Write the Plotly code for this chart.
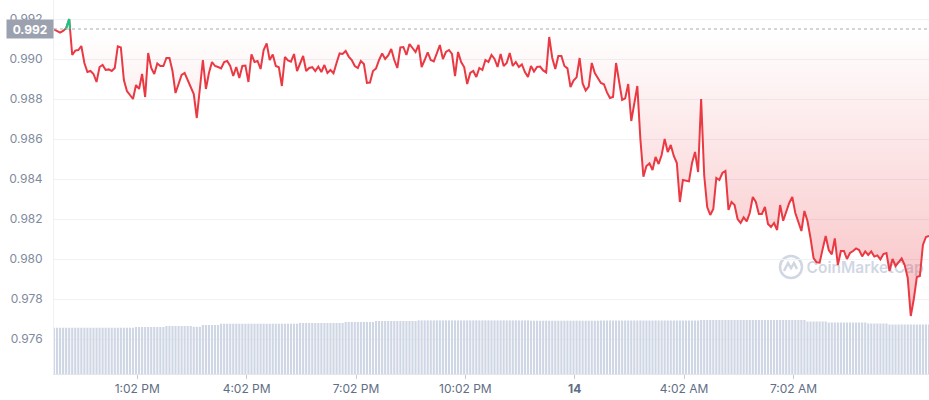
import pandas as pd
import plotly.graph_objects as go

# ---------------- data ----------------
start_time = "2024-05-13 10:45"
baseline = 0.9915  # opening price (dotted reference line)

price = [
    0.99148, 0.99138, 0.99132, 0.99140, 0.99154, 0.99200, 0.99020, 0.99042, 0.99045, 0.99065,
    0.98980, 0.98935, 0.98940, 0.98925, 0.98885, 0.98960, 0.98970, 0.98945, 0.98948, 0.98940,
    0.98955, 0.99063, 0.99058, 0.98895, 0.98840, 0.98820, 0.98800, 0.98870, 0.98850, 0.98925,
    0.98810, 0.99030, 0.98955, 0.98925, 0.98978, 0.98965, 0.98965, 0.99005, 0.99005, 0.98940,
    0.98830, 0.98875, 0.98920, 0.98930, 0.98895, 0.98860, 0.98825, 0.98705, 0.98845, 0.98995,
    0.98850, 0.98930, 0.98985, 0.98965, 0.98960, 0.98953, 0.98985, 0.98990, 0.98965, 0.98915,
    0.98960, 0.98905, 0.98965, 0.98967, 0.98885, 0.99023, 0.98985, 0.98990, 0.98950, 0.99045,
    0.99078, 0.98995, 0.99023, 0.98965, 0.98959, 0.98865, 0.99010, 0.98993, 0.98987, 0.99025,
    0.98940, 0.98982, 0.99015, 0.98940, 0.98955, 0.98959, 0.98940, 0.98962, 0.98935, 0.98970,
    0.98930, 0.98945, 0.98929, 0.98980, 0.99028, 0.99025, 0.99040, 0.99012, 0.98995, 0.98965,
    0.98955, 0.98990, 0.98975, 0.98880, 0.98882, 0.98940, 0.98953, 0.98995, 0.99028, 0.99000,
    0.99018, 0.99050, 0.98995, 0.98955, 0.99058, 0.99060, 0.99020, 0.99075, 0.99053, 0.99035,
    0.99070, 0.98960, 0.98995, 0.99033, 0.98995, 0.98988, 0.99028, 0.99070, 0.99000, 0.99035,
    0.99045, 0.99025, 0.98915, 0.99035, 0.98985, 0.98960, 0.98875, 0.98930, 0.98940, 0.98910,
    0.98955, 0.98945, 0.98995, 0.98985, 0.99020, 0.99000, 0.98960, 0.99025, 0.98965, 0.98980,
    0.99030, 0.98965, 0.98985, 0.98960, 0.98973, 0.98935, 0.98910, 0.98965, 0.98937, 0.98960,
    0.98962, 0.98943, 0.98933, 0.99110, 0.99005, 0.98950, 0.99015, 0.99015, 0.98965, 0.98953,
    0.98860, 0.98892, 0.98908, 0.99005, 0.98878, 0.98842, 0.98862, 0.98980, 0.98930, 0.98905,
    0.98880, 0.98874, 0.98833, 0.98805, 0.98810, 0.98980, 0.98885, 0.98795, 0.98803, 0.98875,
    0.98690, 0.98785, 0.98865, 0.98600, 0.98412, 0.98465, 0.98478, 0.98445, 0.98510, 0.98475,
    0.98520, 0.98600, 0.98535, 0.98570, 0.98515, 0.98480, 0.98285, 0.98395, 0.98390, 0.98388,
    0.98480, 0.98535, 0.98435, 0.98800, 0.98420, 0.98260, 0.98220, 0.98250, 0.98405, 0.98395,
    0.98430, 0.98440, 0.98245, 0.98285, 0.98270, 0.98200, 0.98180, 0.98208, 0.98188, 0.98230,
    0.98310, 0.98285, 0.98225, 0.98225, 0.98260, 0.98175, 0.98160, 0.98180, 0.98145, 0.98270,
    0.98191, 0.98240, 0.98280, 0.98310, 0.98230, 0.98185, 0.98140, 0.98240, 0.98190, 0.98105,
    0.98005, 0.97983, 0.97982, 0.98050, 0.98115, 0.98045, 0.98023, 0.98103, 0.97970, 0.98040,
    0.98040, 0.98000, 0.98030, 0.98040, 0.98053, 0.98045, 0.98013, 0.98038, 0.98020, 0.98038,
    0.98012, 0.98018, 0.97998, 0.98025, 0.98030, 0.97940, 0.98000, 0.97965, 0.97985, 0.98003,
    0.97970, 0.97905, 0.97715, 0.97800, 0.97910, 0.97915, 0.98070, 0.98110, 0.98115,
]

# 24h volume (millions), read as (value, number of consecutive 5-min bars)
volume_runs = [
    (463, 27), (470, 10), (480, 9), (472, 3), (490, 6), (503, 26), (510, 15),
    (520, 10), (530, 14), (536, 37), (533, 23), (535, 33), (540, 35), (525, 7),
    (515, 13), (505, 7), (495, 14),
]

y_ticks = [0.976, 0.978, 0.980, 0.982, 0.984, 0.986, 0.988, 0.990, 0.992]
x_tick_vals = ["2024-05-13 13:02", "2024-05-13 16:02", "2024-05-13 19:02",
               "2024-05-13 22:02", "2024-05-14 01:02", "2024-05-14 04:02",
               "2024-05-14 07:02"]
x_tick_text = ["1:02 PM", "4:02 PM", "7:02 PM", "10:02 PM", "<b>14</b>",
               "4:02 AM", "7:02 AM"]

# ---------------- build ----------------
times = pd.date_range(start_time, periods=len(price), freq="5min")
volume = []
for v, n in volume_runs:
    volume.extend([v] * n)
vol_times = pd.date_range(start_time, periods=len(volume), freq="5min")

# green part: segments above the baseline, with crossing points
tnum = times.asi8
gx, gy = [], []
for i in range(len(price) - 1):
    v0, v1 = price[i], price[i + 1]
    if v0 >= baseline:
        gx.append(pd.Timestamp(tnum[i])); gy.append(v0)
    if (v0 - baseline) * (v1 - baseline) < 0:
        tc = tnum[i] + (tnum[i + 1] - tnum[i]) * (baseline - v0) / (v1 - v0)
        gx.append(pd.Timestamp(int(tc))); gy.append(baseline)
        if v1 < baseline:
            gx.append(None); gy.append(None)
if price[-1] >= baseline:
    gx.append(times[-1]); gy.append(price[-1])

RED = "#ea3943"
GREEN = "#16c784"
WM = "rgba(200,208,222,0.85)"

fig = go.Figure()

fig.add_trace(go.Bar(
    x=vol_times, y=volume, marker=dict(color="#cfd6e4", line=dict(width=0)),
    yaxis="y", hoverinfo="skip", showlegend=False,
))

fig.add_trace(go.Scatter(
    x=times, y=[baseline] * len(times), mode="lines",
    line=dict(width=0, color="rgba(0,0,0,0)"), yaxis="y2",
    hoverinfo="skip", showlegend=False,
))
fig.add_trace(go.Scatter(
    x=times, y=price, mode="lines", yaxis="y2",
    line=dict(color=RED, width=2),
    fill="tonexty",
    fillgradient=dict(
        type="vertical",
        colorscale=[[0, "rgba(234,57,67,0.32)"], [1, "rgba(234,57,67,0.0)"]],
        start=0.977, stop=baseline,
    ),
    showlegend=False,
))
fig.add_trace(go.Scatter(
    x=gx, y=gy, mode="lines", yaxis="y2",
    line=dict(color=GREEN, width=2), connectgaps=False, showlegend=False,
))

fig.add_shape(type="line", xref="paper", x0=0, x1=1, yref="y2",
              y0=baseline, y1=baseline,
              line=dict(color="#a6acb8", width=1.2, dash="dot"))

# watermark (drawn beneath the data)
fig.add_shape(type="circle", xref="paper", yref="paper", layer="below",
              xsizemode="pixel", ysizemode="pixel",
              xanchor=0.8423, yanchor=0.286,
              x0=-11, x1=11, y0=-11, y1=11,
              line=dict(color=WM, width=2.5))
fig.add_shape(type="path", xref="paper", yref="paper", layer="below",
              xsizemode="pixel", ysizemode="pixel",
              xanchor=0.8423, yanchor=0.286,
              path="M -7,-4 L -3,4 L 0,-1 L 3,4 L 6,-2",
              line=dict(color=WM, width=2.5))
fig.add_shape(type="rect", xref="paper", yref="paper", layer="below",
              x0=0.862, x1=0.992, y0=0.25, y1=0.32,
              line=dict(width=0), fillcolor="rgba(0,0,0,0)",
              label=dict(text="CoinMarketCap", textposition="middle center",
                         font=dict(family="Inter", size=15.5, weight=600,
                                   color=WM)))

# current price badge
fig.add_annotation(xref="paper", x=0, xanchor="right", yref="y2", y=baseline,
                   text="<b>0.992</b>", showarrow=False,
                   bgcolor="#9ba1ae", width=42, height=14, borderpad=2,
                   font=dict(family="Inter", size=12, color="white"))

fig.update_layout(
    width=929, height=400,
    margin=dict(l=54, r=0, t=0, b=26),
    paper_bgcolor="white", plot_bgcolor="white",
    bargap=0.3,
    font=dict(family="Inter", size=12, color="#808a9d"),
    xaxis=dict(
        range=[times[0], times[-1]], type="date",
        tickvals=x_tick_vals, ticktext=x_tick_text,
        showgrid=False, showline=True, linecolor="#e3e6ec", linewidth=1,
        ticks="outside", ticklen=4, tickcolor="#c4c9d2",
        tickfont=dict(family="Inter", size=12, color="#616e85"),
        zeroline=False,
    ),
    yaxis=dict(range=[0, 3740], visible=False, fixedrange=True),
    yaxis2=dict(
        overlaying="y", side="left",
        range=[0.97425, 0.99295],
        tickvals=y_ticks, tickformat=".3f",
        showgrid=True, gridcolor="#eff2f5", gridwidth=1,
        showline=True, linecolor="#eff2f5",
        zeroline=False, ticks="", ticklabelstandoff=8,
        tickfont=dict(family="Inter", size=12, color="#808a9d"),
    ),
)

fig.write_html("out.html", config={"displayModeBar": False},
               post_script="document.body.style.margin='0px';")
